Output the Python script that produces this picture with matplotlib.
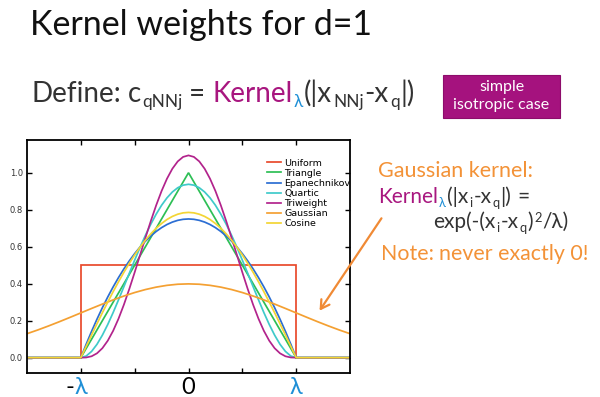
"""
Kernel weights for d=1 -- slide recreation.
"""

import matplotlib
matplotlib.use("Agg")
import matplotlib.pyplot as plt
import numpy as np
from matplotlib.patches import FancyArrowPatch, Rectangle

W, H = 600, 397

# kernel profiles, at u = 0, 0.05, ..., 1.0 (curves are symmetric)
u_half = [0.0, 0.05, 0.1, 0.15, 0.2, 0.25, 0.3, 0.35, 0.4, 0.45, 0.5,
          0.55, 0.6, 0.65, 0.7, 0.75, 0.8, 0.85, 0.9, 0.95, 1.0]
triangle_half = [1.0, 0.95, 0.9, 0.85, 0.8, 0.75, 0.7, 0.65, 0.6, 0.55, 0.5,
                 0.45, 0.4, 0.35, 0.3, 0.25, 0.2, 0.15, 0.1, 0.05, 0.0]
epan_half = [0.75, 0.7481, 0.7425, 0.7331, 0.72, 0.7031, 0.6825, 0.6581, 0.63, 0.5981, 0.5625,
             0.5231, 0.48, 0.4331, 0.3825, 0.3281, 0.27, 0.2081, 0.1425, 0.0731, 0.0]
quartic_half = [0.9375, 0.9328, 0.9188, 0.8958, 0.864, 0.824, 0.7763, 0.7219, 0.6615, 0.5963, 0.5273,
                0.4561, 0.384, 0.3127, 0.2438, 0.1794, 0.1215, 0.0722, 0.0338, 0.0089, 0.0]
triweight_half = [1.0938, 1.0856, 1.0613, 1.0216, 0.9677, 0.9012, 0.8242, 0.739, 0.6483, 0.5548, 0.4614,
                  0.3712, 0.2867, 0.2107, 0.1451, 0.0916, 0.051, 0.0234, 0.0075, 0.001, 0.0]
cosine_half = [0.7854, 0.783, 0.7757, 0.7637, 0.747, 0.7256, 0.6998, 0.6697, 0.6354, 0.5972, 0.5554,
               0.5101, 0.4617, 0.4104, 0.3566, 0.3006, 0.2427, 0.1834, 0.1229, 0.0616, 0.0]
# gaussian goes on to the plot edge, u = 0 .. 1.5
gauss_u_half = [0.0, 0.1, 0.2, 0.3, 0.4, 0.5, 0.6, 0.7, 0.8, 0.9, 1.0, 1.1, 1.2, 1.3, 1.4, 1.5]
gauss_half = [0.3989, 0.397, 0.391, 0.3814, 0.3683, 0.3521, 0.3332, 0.3123, 0.2897, 0.2661,
              0.242, 0.2179, 0.1942, 0.1714, 0.1497, 0.1295]
uniform_x = [-1.5, -1.0, -1.0, 1.0, 1.0, 1.5]
uniform_y = [0.0, 0.0, 0.5, 0.5, 0.0, 0.0]

names = ["Uniform", "Triangle", "Epanechnikov", "Quartic", "Triweight", "Gaussian", "Cosine"]
colors = ["#e8492b", "#2dbf55", "#2c6ed3", "#3fcaca", "#b2238c", "#f4a032", "#f3d535"]

ytick_vals = [0.0, 0.2, 0.4, 0.6, 0.8, 1.0]
xtick_vals = [-1.0, -0.5, 0.0, 0.5, 1.0]
xtick_text = ["\u03bb", "", "0", "", "\u03bb"]

DARK = "#333333"
MAGENTA = "#a8167f"
BLUE = "#1f8fd6"
ORANGE = "#f39237"
SLIDE_FONT = ["Lato", "DejaVu Sans"]


def mirror(u, v, edge=True):
    u = np.asarray(u)
    v = np.asarray(v)
    x = np.r_[-u[::-1], u[1:]]
    y = np.r_[v[::-1], v[1:]]
    if edge:
        x = np.r_[-1.5, x, 1.5]
        y = np.r_[0.0, y, 0.0]
    return x, y


fig = plt.figure(figsize=(W / 100, H / 100), dpi=100)
fig.patch.set_facecolor("white")

ax = fig.add_axes([27 / W, 1 - 373 / H, 323 / W, 233 / H])

series = [
    (np.array(uniform_x), np.array(uniform_y)),
    mirror(u_half, triangle_half),
    mirror(u_half, epan_half),
    mirror(u_half, quartic_half),
    mirror(u_half, triweight_half),
    mirror(gauss_u_half, gauss_half, edge=False),
    mirror(u_half, cosine_half),
]
for (x, y), name, c in zip(series, names, colors):
    ax.plot(x, y, color=c, lw=1.25, label=name, solid_joinstyle="miter")

ax.set_xlim(-1.5, 1.5)
ax.set_ylim(-0.083, 1.177)
ax.set_yticks(ytick_vals)
ax.set_yticklabels(["%.1f" % v for v in ytick_vals], fontsize=6, color="#333333")
ax.set_xticks(xtick_vals)
ax.set_xticklabels(xtick_text, fontsize=17, family=SLIDE_FONT)
for lab, t in zip(ax.get_xticklabels(), xtick_text):
    lab.set_color(BLUE if t == "\u03bb" else "black")
ax.tick_params(axis="both", direction="in", top=True, right=True, length=3.5, width=1)
ax.tick_params(axis="x", pad=3)
ax.tick_params(axis="y", pad=3)
for s in ax.spines.values():
    s.set_linewidth(1.3)
# the minus sign in front of the left lambda
ax.annotate("-", xy=(-1.0, 0), xycoords=("data", "axes fraction"), xytext=(-5, -3),
            textcoords="offset points", ha="right", va="top", fontsize=17,
            family=SLIDE_FONT, color="black", annotation_clip=False)

leg = ax.legend(loc="upper left", bbox_to_anchor=(0.743, 0.92), frameon=False,
                fontsize=6.8, handlelength=1.5, handletextpad=0.35, labelspacing=0.12,
                borderpad=0, borderaxespad=0)

# ---- slide text ----
renderer = fig.canvas.get_renderer()


def rich(x, y, parts, size, weight="normal"):
    # parts: (text, color, scale, dy in px, gap in px after)
    for s, col, scale, dy, gap in parts:
        t = fig.text(x / W, 1 - (y + dy) / H, s, color=col, fontsize=size * scale,
                     family=SLIDE_FONT, weight=weight, ha="left", va="baseline")
        bb = t.get_window_extent(renderer)
        x = x + bb.width + gap
    return x


fig.text(30 / W, 1 - 35 / H, "Kernel weights for d=1", fontsize=24.5, color="#111111",
         family=SLIDE_FONT, ha="left", va="baseline")

sub = 0.62
rich(31, 102, [
    ("Define:", DARK, 1, 0, 7),
    ("c", DARK, 1, 0, 1),
    ("qNNj", DARK, sub, 5, 7),
    ("=", DARK, 1, 0, 7),
    ("Kernel", MAGENTA, 1, 0, 1),
    ("\u03bb", BLUE, sub, 5, 1),
    ("(|x", DARK, 1, 0, 1),
    ("NNj", DARK, sub, 5, 1),
    ("-x", DARK, 1, 0, 1),
    ("q", DARK, sub, 5, 1),
    ("|)", DARK, 1, 0, 0),
], 20)

# magenta box
fig.add_artist(Rectangle((443 / W, 1 - 118 / H), 117 / W, 43 / H, transform=fig.transFigure,
                         facecolor="#a5127e", edgecolor="#8d0c6b", lw=0.8))
fig.text(501.5 / W, 1 - 91 / H, "simple", color="white", fontsize=11.5, family=SLIDE_FONT,
         ha="center", va="baseline")
fig.text(501.5 / W, 1 - 109 / H, "isotropic case", color="white", fontsize=11.5,
         family=SLIDE_FONT, ha="center", va="baseline")

# gaussian kernel note
fig.text(378 / W, 1 - 177 / H, "Gaussian kernel:", color=ORANGE, fontsize=15.5,
         family=SLIDE_FONT, ha="left", va="baseline")
rich(378, 203, [
    ("Kernel", MAGENTA, 1, 0, 1),
    ("\u03bb", BLUE, sub, 4, 1),
    ("(|x", DARK, 1, 0, 1),
    ("i", DARK, sub, 4, 1),
    ("-x", DARK, 1, 0, 1),
    ("q", DARK, sub, 4, 1),
    ("|)", DARK, 1, 0, 6),
    ("=", DARK, 1, 0, 0),
], 15)
rich(433, 228, [
    ("exp(-(x", DARK, 1, 0, 1),
    ("i", DARK, sub, 4, 1),
    ("-x", DARK, 1, 0, 1),
    ("q", DARK, sub, 4, 1),
    (")", DARK, 1, 0, 1),
    ("2", DARK, sub, -6, 1),
    ("/\u03bb)", DARK, 1, 0, 0),
], 15)
rich(381, 260, [
    ("Note:", ORANGE, 1, 0, 5),
    ("never exactly 0!", ORANGE, 1, 0, 0),
], 15.4)

arrow = FancyArrowPatch((383 / W, 1 - 216 / H), (318 / W, 1 - 313 / H),
                        transform=fig.transFigure, arrowstyle="->,head_length=6,head_width=3.5",
                        color="#f08a35", lw=1.6)
fig.add_artist(arrow)

fig.savefig("out.png", dpi=100)
